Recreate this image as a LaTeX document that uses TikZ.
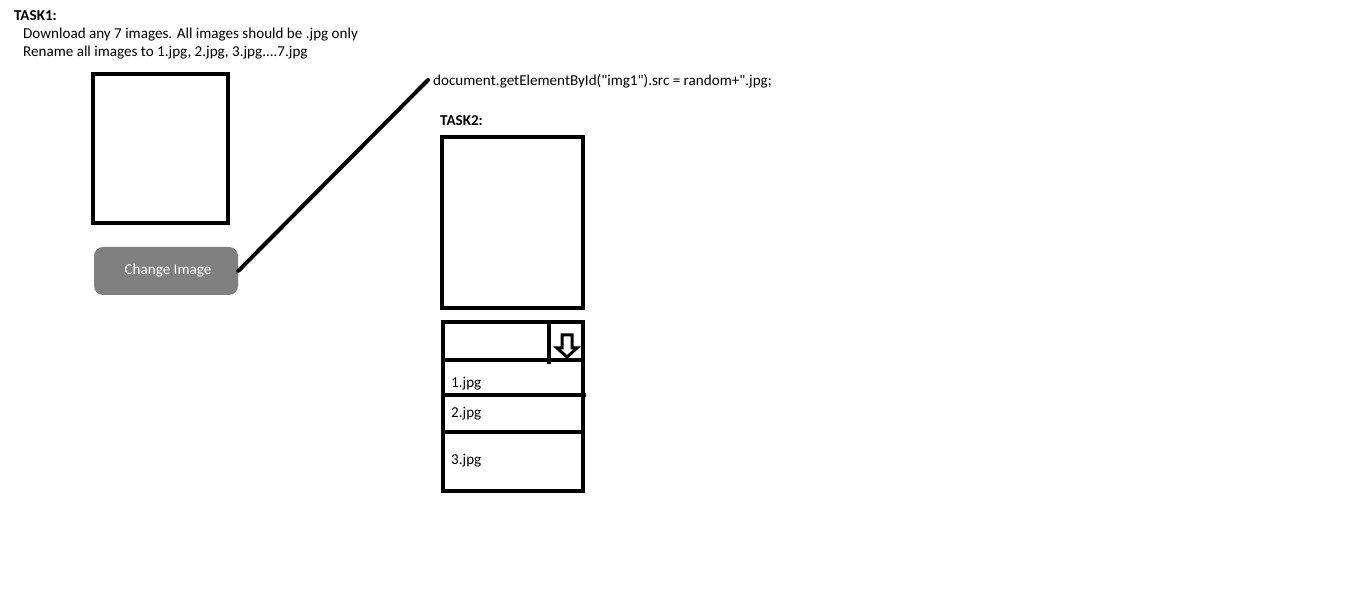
\documentclass[tikz,border=0pt]{standalone}
\usepackage{fontspec}
\setmainfont{Carlito}
\newfontfamily\codefont{Carlito}
\begin{document}
\begin{tikzpicture}[x=1pt,y=-1pt,
  thickbox/.style={draw=black,line width=4pt},
  txt/.style={anchor=west,inner sep=0pt,font=\fontsize{15.1}{17}\selectfont},
  btxt/.style={anchor=west,inner sep=0pt,font=\fontsize{15.1}{17}\selectfont\bfseries},
  btn/.style={fill=black!50,rounded corners=9pt,minimum width=144pt,minimum height=48pt,inner sep=0pt,text=white,font=\fontsize{15.1}{17}\selectfont},
  conn/.style={line width=4pt,line cap=round}]
\useasboundingbox (0,0) rectangle (1360,593);
\fill[white] (0,0) rectangle (1360,593);
% Task 1
\node[btxt] (t1) at (14,16) {TASK1:};
\node[txt] (l1) at (23,35) {Download any 7 images. All images should be .jpg only};
\node[txt] (l2) at (23,53) {Rename all images to 1.jpg, 2.jpg, 3.jpg....7.jpg};
\node[thickbox,minimum width=135pt,minimum height=149pt,inner sep=0pt] (img1) at (160.5,148.5) {};
\node[btn] (button) at (166,271) {\hspace*{4pt}Change Image};
% code
\node[txt] (code) at (433,81) {\codefont document.getElementById("img1").src = random+".jpg;};
\coordinate (codeend) at (428,80);
\draw[conn] (button.east) -- (codeend);
% Task 2
\node[btxt] (t2) at (440,121) {TASK2:};
\node[thickbox,minimum width=141pt,minimum height=171pt,inner sep=0pt] (img2) at (512.5,222.5) {};
\node[thickbox,minimum width=140pt,minimum height=169pt,inner sep=0pt] (dd) at (513,406.5) {};
\draw[line width=4pt] (443,360) -- (583,360);
\draw[line width=4pt] (549,322) -- (549,364);
\draw[line width=4pt] (443,395) -- (586,395);
\draw[line width=4pt] (443,432) -- (583,432);
% dropdown arrow
\draw[line width=3pt,line join=miter] (562,335) -- (572,335) -- (572,348) -- (577,348) -- (567,357) -- (557,348) -- (562,348) -- cycle;
\node[txt] (o1) at (451,384) {1.jpg};
\node[txt] (o2) at (451,414) {2.jpg};
\node[txt] (o3) at (451,461) {3.jpg};
\end{tikzpicture}
\end{document}
